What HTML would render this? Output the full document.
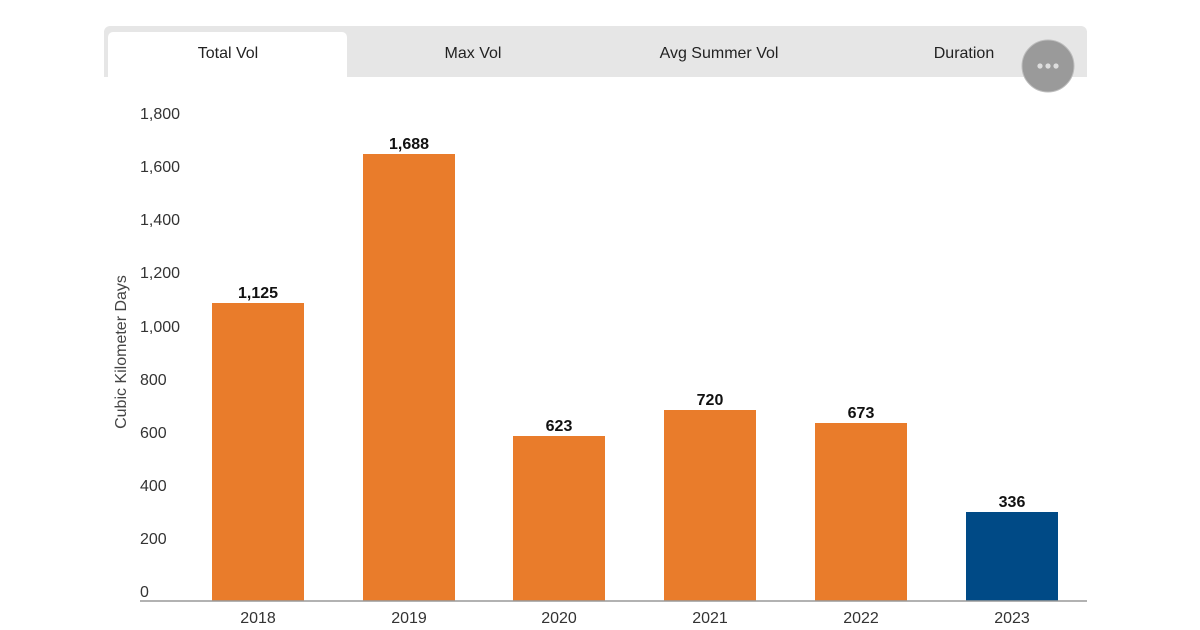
<!DOCTYPE html>
<html><head><meta charset="utf-8"><style>
html,body{margin:0;padding:0;background:#fff;width:1200px;height:630px;overflow:hidden}
svg{display:block;font-family:"Liberation Sans",sans-serif}
</style></head><body>
<svg width="1200" height="630" viewBox="0 0 1200 630">
<rect x="104" y="26" width="983" height="51" rx="6" fill="#e6e6e6"/>
<rect x="104" y="70" width="983" height="7" fill="#e6e6e6"/>
<path d="M108 77 V37 a5 5 0 0 1 5 -5 H342 a5 5 0 0 1 5 5 V77 Z" fill="#fff"/>
<g font-size="16" fill="#222" text-anchor="middle">
<text x="228" y="58">Total Vol</text>
<text x="473" y="58">Max Vol</text>
<text x="719" y="58">Avg Summer Vol</text>
<text x="964" y="58">Duration</text>
</g>
<circle cx="1048" cy="66" r="26" fill="#9a9a9a" stroke="#bdbdbd" stroke-width="1"/>
<circle cx="1040" cy="66" r="2.6" fill="#ddd"/><circle cx="1048" cy="66" r="2.6" fill="#ddd"/><circle cx="1056" cy="66" r="2.6" fill="#ddd"/>
<g font-size="16" fill="#333">
<text x="140" y="597">0</text>
<text x="140" y="544">200</text>
<text x="140" y="491">400</text>
<text x="140" y="438">600</text>
<text x="140" y="385">800</text>
<text x="140" y="332">1,000</text>
<text x="140" y="278">1,200</text>
<text x="140" y="225">1,400</text>
<text x="140" y="172">1,600</text>
<text x="140" y="119">1,800</text>
</g>
<text transform="translate(126,352) rotate(-90)" font-size="16" fill="#444" text-anchor="middle">Cubic Kilometer Days</text>
<g fill="#e97c2b">
<rect x="212" y="303" width="92" height="298"/>
<rect x="363" y="154" width="92" height="447"/>
<rect x="513" y="436" width="92" height="165"/>
<rect x="664" y="410" width="92" height="191"/>
<rect x="815" y="423" width="92" height="178"/>
</g>
<rect x="966" y="512" width="92" height="89" fill="#004a86"/>
<line x1="140" y1="601" x2="1087" y2="601" stroke="#999" stroke-width="1.5"/>
<g font-size="16" font-weight="bold" fill="#111" text-anchor="middle">
<text x="258" y="298">1,125</text>
<text x="409" y="149">1,688</text>
<text x="559" y="431">623</text>
<text x="710" y="405">720</text>
<text x="861" y="418">673</text>
<text x="1012" y="507">336</text>
</g>
<g font-size="16" fill="#333" text-anchor="middle">
<text x="258" y="623">2018</text>
<text x="409" y="623">2019</text>
<text x="559" y="623">2020</text>
<text x="710" y="623">2021</text>
<text x="861" y="623">2022</text>
<text x="1012" y="623">2023</text>
</g>
</svg>
</body></html>
